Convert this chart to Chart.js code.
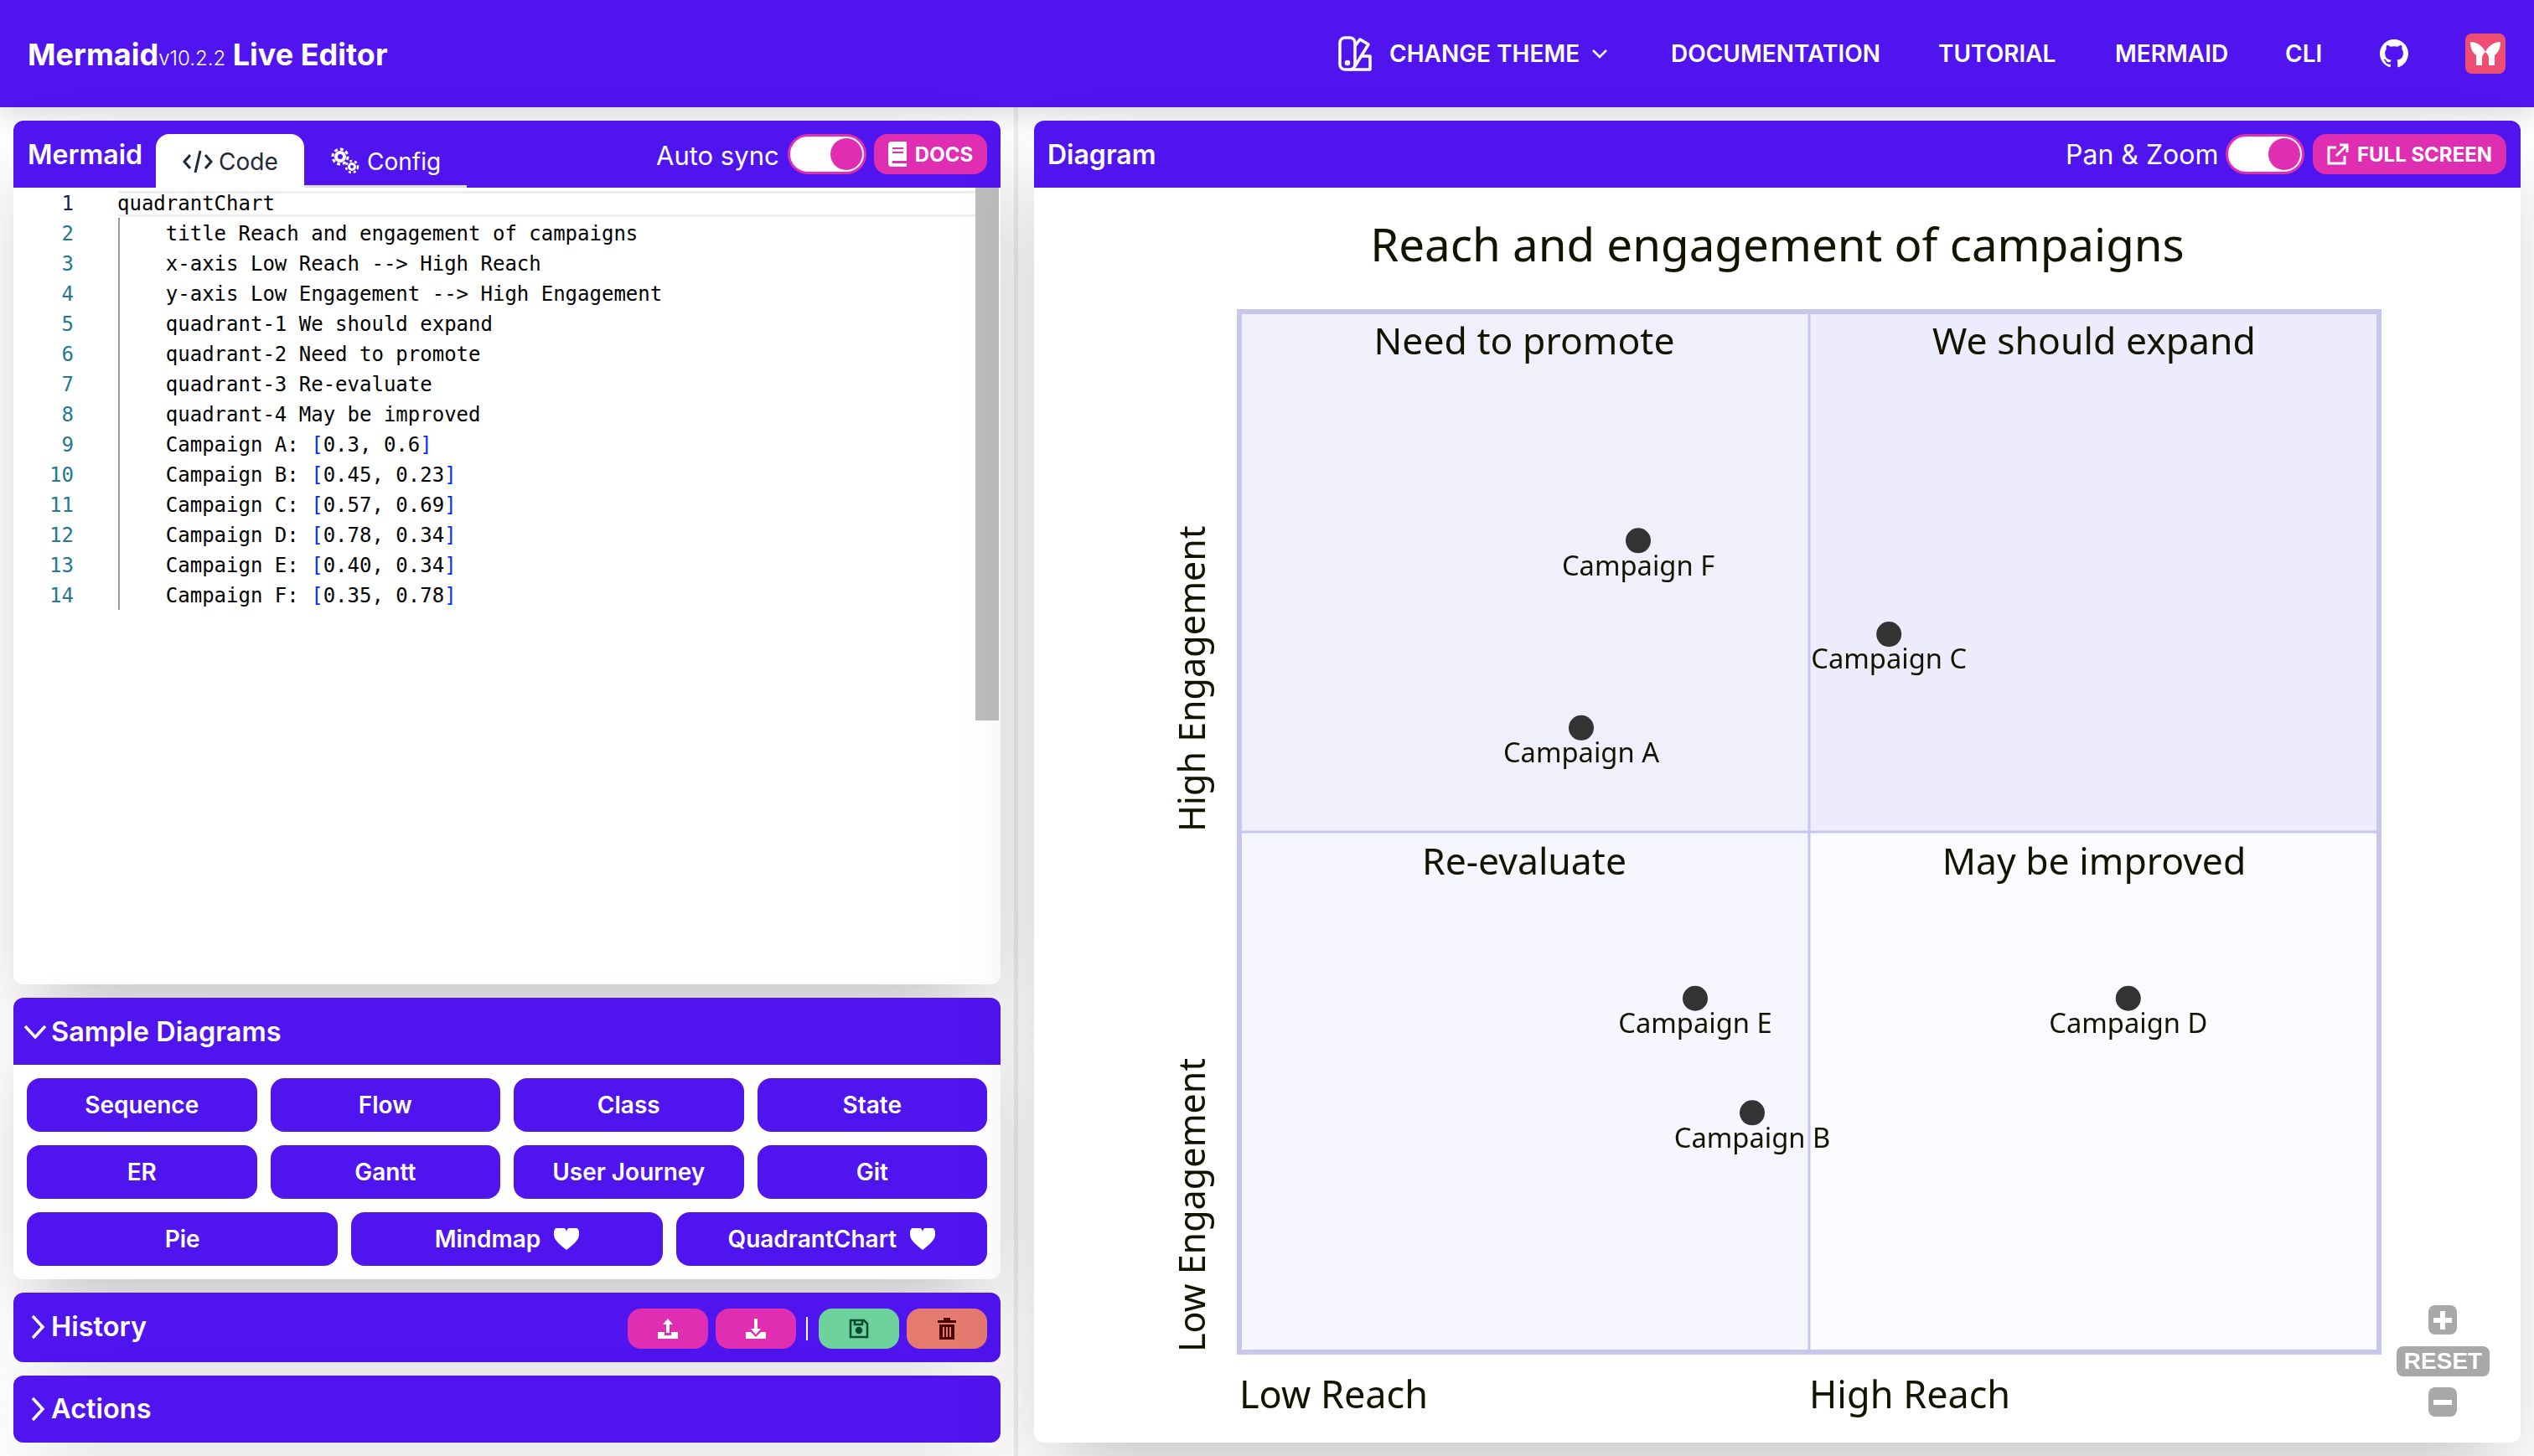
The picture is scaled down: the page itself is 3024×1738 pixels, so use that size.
<!DOCTYPE html>
<html>
<head>
<meta charset="utf-8">
<title>Mermaid Live Editor</title>
<script src="https://cdn.jsdelivr.net/npm/chart.js@4"></script>
<style>
  html, body { margin: 0; width: 3024px; height: 1738px; overflow: hidden; background: #fff; font-family: Inter, sans-serif; color: #fff; }
  .a { position: absolute; box-sizing: border-box; }
  .t { position: absolute; white-space: nowrap; line-height: 1; transform: translateY(-50%); }
  .purple { background: #5014EF; }
  .shadow { box-shadow: 0 50px 100px -24px rgba(0,0,0,.25); }
  .btn { position: absolute; background: #5014EF; border-radius: 16px; display: flex; align-items: center; justify-content: center; font-size: 28px; font-weight: 600; gap: 16px; }
  .pink { position: absolute; background: #DF2EB1; border-radius: 16px; display: flex; align-items: center; justify-content: center; font-size: 24px; font-weight: 700; gap: 10px; }
  .nav { font-size: 28px; font-weight: 600; }
  .head { font-size: 32.5px; font-weight: 600; }
  .toggle { position: absolute; box-sizing: border-box; top: 160px; height: 48px; background: #fff; border: 3px solid #DF2EB1; border-radius: 24px; }
  .toggle i { position: absolute; right: 2px; top: 2px; width: 38px; height: 38px; border-radius: 50%; background: #DF2EB1; }
  .code { position: absolute; font: 24px/36px "DejaVu Sans Mono", monospace; color: #000; white-space: pre; }
  .num { position: absolute; font: 24px/36px "DejaVu Sans Mono", monospace; color: #237893; text-align: right; width: 60px; left: 28px; }
  .zoomBtn { position: absolute; background: #A8A8A8; border-radius: 8px; color: #fff; font: bold 28px "Liberation Sans", sans-serif; display: flex; align-items: center; justify-content: center; }
  svg { display: block; }
</style>
</head>
<body>
<div class="a" style="left:1210px;top:128px;width:5px;height:1610px;background:#eee"></div>

<div class="a purple" style="left:0;top:0;width:3024px;height:128px;box-shadow:0 8px 30px rgba(0,0,0,.15)"></div>
<div class="t" style="left:33px;top:65px;font-size:36px;font-weight:700">Mermaid<span style="font-size:24px;font-weight:300">v10.2.2</span> Live Editor</div>
<svg class="a" style="left:1597px;top:43px" width="42" height="42" viewBox="0 0 42 42" fill="none" stroke="#fff" stroke-width="3.5" stroke-linejoin="round"><path d="M2 8a6 6 0 0 1 6-6h6a6 6 0 0 1 6 6v26a6 6 0 0 1-6 6H8a6 6 0 0 1-6-6z"/><path d="M20 12l6-8 10 6-16 26M14 40h24V24H27"/><circle cx="11" cy="32" r="1.5"/></svg>
<div class="t nav" style="left:1658px;top:64px">CHANGE THEME</div>
<svg class="a" style="left:1899px;top:58px" width="20" height="12" viewBox="0 0 20 12" fill="none" stroke="#fff" stroke-width="2.5"><path d="M2 2l8 8 8-8"/></svg>
<div class="t nav" style="left:1994px;top:64px">DOCUMENTATION</div>
<div class="t nav" style="left:2313px;top:64px">TUTORIAL</div>
<div class="t nav" style="left:2524px;top:64px">MERMAID</div>
<div class="t nav" style="left:2727px;top:64px">CLI</div>
<svg class="a" style="left:2840px;top:47px" width="34" height="34" viewBox="0 0 16 16" fill="#fff"><path d="M8 0C3.58 0 0 3.58 0 8c0 3.54 2.29 6.53 5.47 7.59.4.07.55-.17.55-.38v-1.34c-2.23.48-2.69-1.07-2.69-1.07-.36-.92-.89-1.17-.89-1.17-.73-.5.06-.49.06-.49.8.06 1.23.83 1.23.83.71 1.22 1.87.87 2.33.66.07-.52.28-.87.5-1.07-1.78-.2-3.64-.89-3.64-3.95 0-.87.31-1.59.82-2.15-.08-.2-.36-1.02.08-2.12 0 0 .67-.21 2.2.82a7.6 7.6 0 0 1 4 0c1.53-1.04 2.2-.82 2.2-.82.44 1.1.16 1.92.08 2.12.51.56.82 1.27.82 2.15 0 3.07-1.87 3.75-3.65 3.95.29.25.54.73.54 1.48v2.2c0 .21.15.46.55.38A8.01 8.01 0 0 0 16 8c0-4.42-3.58-8-8-8z"/></svg>
<div class="a" style="left:2942px;top:40px;width:48px;height:48px;border-radius:8px;background:#EE4D74"></div>
<svg class="a" style="left:2948px;top:49px" width="36" height="30" viewBox="0 0 36 30" fill="#fff"><path d="M0 1c8 0 15 5 18 12C21 6 28 1 36 1c0 8-3 13-7 16v12H22V20c0-3-2-5-4-7-2 2-4 4-4 7v9H7V17C3 14 0 9 0 1z"/></svg>

<!-- editor panel -->
<div class="a shadow" style="left:16px;top:144px;width:1178px;height:1031px;background:#fff;border-radius:12px"></div>
<div class="a purple" style="left:16px;top:144px;width:1178px;height:80px;border-radius:12px 12px 0 0"></div>
<div class="t head" style="left:33px;top:185px;font-size:32px">Mermaid</div>
<div class="a" style="left:186px;top:160px;width:177px;height:64px;background:#fff;border-radius:16px 16px 0 0"></div>
<svg class="a" style="left:218px;top:177px" width="36" height="32" viewBox="0 0 36 32" fill="none" stroke="#1f2937" stroke-width="3"><path d="M9 8l-7 8 7 8M27 8l7 8-7 8M21 3l-6 26"/></svg>
<div class="t" style="left:261px;top:193px;font-size:28px;color:#1f2937">Code</div>
<svg class="a" style="left:395px;top:176px" width="34" height="32" viewBox="0 0 34 32" fill="#fff"><circle cx="11" cy="11" r="7"/><circle cx="11" cy="11" r="9" fill="none" stroke="#fff" stroke-width="3" stroke-dasharray="4 3"/><circle cx="11" cy="11" r="3" fill="#5014EF"/><circle cx="25" cy="23" r="5"/><circle cx="25" cy="23" r="7" fill="none" stroke="#fff" stroke-width="2.5" stroke-dasharray="3 3"/><circle cx="25" cy="23" r="2" fill="#5014EF"/></svg>
<div class="t" style="left:438px;top:193px;font-size:28px">Config</div>
<div class="a" style="left:363px;top:221px;width:194px;height:3px;background:#ddd"></div>
<div class="t" style="left:783px;top:185px;font-size:31px">Auto sync</div>
<div class="toggle" style="left:940px;width:94px"><i></i></div>
<div class="pink" style="left:1043px;top:160px;width:135px;height:48px"><svg width="22" height="30" viewBox="0 0 22 30" fill="#fff"><path d="M4 0h18v23H5a2.500 2.500 0 0 0 0 3h17v4H4a4 4 0 0 1-4-4V4a4 4 0 0 1 4-4zM5 7v2h13V7zm0 5v2h13v-2z" fill-rule="evenodd"/></svg>DOCS</div>

<div class="a" style="left:141px;top:228px;width:1051px;height:31px;background:#fff;border:solid #eee;border-width:3px 0"></div>
<div class="a" style="left:141px;top:260px;width:2px;height:468px;background:#999"></div>
<div class="a" style="left:1164px;top:224px;width:28px;height:636px;background:#BDBDBD"></div>
<div id="code"></div>

<!-- sample diagrams -->
<div class="a shadow" style="left:16px;top:1191px;width:1178px;height:336px;background:#fff;border-radius:12px"></div>
<div class="a purple" style="left:16px;top:1191px;width:1178px;height:80px;border-radius:12px 12px 0 0"></div>
<svg class="a" style="left:28px;top:1223px" width="28" height="18" viewBox="0 0 28 18" fill="none" stroke="#fff" stroke-width="3.500"><path d="M2 2l12 13L26 2"/></svg>
<div class="t head" style="left:61px;top:1232px">Sample Diagrams</div>
<div id="samples"></div>

<!-- history and actions -->
<div class="a purple shadow" style="left:16px;top:1543px;width:1178px;height:83px;border-radius:12px"></div>
<svg class="a" style="left:36px;top:1569px" width="18" height="30" viewBox="0 0 18 30" fill="none" stroke="#fff" stroke-width="3.500"><path d="M3 2l12 13L3 28"/></svg>
<div class="t head" style="left:61px;top:1584px">History</div>
<div class="pink" style="left:749px;top:1562px;width:96px;height:48px"><svg width="26" height="26" viewBox="0 0 26 26" fill="#fff"><path d="M13 1l6 7h-4v10h-4V8H7zM1 17h8v4h8v-4h8v8H1z"/></svg></div>
<div class="pink" style="left:854px;top:1562px;width:96px;height:48px"><svg width="26" height="26" viewBox="0 0 26 26" fill="#fff"><path d="M11 1h4v12h4l-6 7-6-7h4zM1 17h6l6 6 6-6h6v8H1z"/></svg></div>
<div class="a" style="left:962px;top:1572px;width:2px;height:28px;background:#fff"></div>
<div class="pink" style="left:977px;top:1562px;width:96px;height:48px;background:#6DD29B"><svg width="24" height="24" viewBox="0 0 24 24" fill="none" stroke="#0d4a33" stroke-width="2.500"><path d="M2 2h16l4 4v16H2z"/><circle cx="12" cy="14" r="3" fill="#0d4a33"/><path d="M7 2v5h9V2"/></svg></div>
<div class="pink" style="left:1082px;top:1562px;width:96px;height:48px;background:#E57A6F"><svg width="22" height="26" viewBox="0 0 22 26" fill="#4a0505"><path d="M0 3h7V0h8v3h7v3H0zM2 8h18v18H2zm4 3v12h2V11zm4 0v12h2V11zm4 0v12h2V11z" fill-rule="evenodd"/></svg></div>

<div class="a purple shadow" style="left:16px;top:1642px;width:1178px;height:80px;border-radius:12px"></div>
<svg class="a" style="left:36px;top:1667px" width="18" height="30" viewBox="0 0 18 30" fill="none" stroke="#fff" stroke-width="3.500"><path d="M3 2l12 13L3 28"/></svg>
<div class="t head" style="left:61px;top:1682px">Actions</div>

<!-- diagram panel -->
<div class="a shadow" style="left:1234px;top:144px;width:1774px;height:1578px;background:#fff;border-radius:12px"></div>
<div class="a purple" style="left:1234px;top:144px;width:1774px;height:80px;border-radius:12px 12px 0 0"></div>
<div class="t head" style="left:1250px;top:185px;font-size:32px">Diagram</div>
<div class="t" style="left:2465px;top:185px;font-size:32px">Pan &amp; Zoom</div>
<div class="toggle" style="left:2656px;width:94px"><i></i></div>
<div class="pink" style="left:2760px;top:160px;width:231px;height:48px"><svg width="26" height="26" viewBox="0 0 26 26" fill="none" stroke="#fff" stroke-width="3"><path d="M11 5H2v19h19v-9M15 2h9v9M24 2L11 15"/></svg>FULL SCREEN</div>

<canvas id="quadrantChart" class="a" style="left:1234px;top:224px" width="1774" height="1498"></canvas>

<div class="zoomBtn" style="left:2898px;top:1558px;width:34px;height:35px"><svg width="22" height="22" viewBox="0 0 22 22" fill="#fff"><path d="M8 0h6v8h8v6h-8v8H8v-8H0V8h8z"/></svg></div>
<div class="zoomBtn" style="left:2860px;top:1607px;width:111px;height:36px">RESET</div>
<div class="zoomBtn" style="left:2898px;top:1656px;width:34px;height:35px"><svg width="22" height="6" viewBox="0 0 22 6" fill="#fff"><path d="M0 0h22v6H0z"/></svg></div>

<script>
var titleText = "Reach and engagement of campaigns";
var xAxisLabels = ["Low Reach", "High Reach"];
var yAxisLabels = ["Low Engagement", "High Engagement"];
var axisTicks = [0, 0.5];
// left x and bottom y of each quadrant, in data units
var quadrantX = [0.5, 0, 0, 0.5];
var quadrantY = [0.5, 0.5, 0, 0];
var quadrantNames = ["We should expand", "Need to promote", "Re-evaluate", "May be improved"];
var quadrantFills = ["#ECECFC", "#F0F0FD", "#F5F6FE", "#FAFAFF"];
var campaignNames = ["Campaign A", "Campaign B", "Campaign C", "Campaign D", "Campaign E", "Campaign F"];
var reachValues = [0.3, 0.45, 0.57, 0.78, 0.40, 0.35];
var engagementValues = [0.6, 0.23, 0.69, 0.34, 0.34, 0.78];

var codeLines = [
  "quadrantChart",
  "    title Reach and engagement of campaigns",
  "    x-axis Low Reach --> High Reach",
  "    y-axis Low Engagement --> High Engagement",
  "    quadrant-1 We should expand",
  "    quadrant-2 Need to promote",
  "    quadrant-3 Re-evaluate",
  "    quadrant-4 May be improved",
  "    Campaign A: [0.3, 0.6]",
  "    Campaign B: [0.45, 0.23]",
  "    Campaign C: [0.57, 0.69]",
  "    Campaign D: [0.78, 0.34]",
  "    Campaign E: [0.40, 0.34]",
  "    Campaign F: [0.35, 0.78]"
];
var sampleRows = [
  ["Sequence", "Flow", "Class", "State"],
  ["ER", "Gantt", "User Journey", "Git"],
  ["Pie", "Mindmap", "QuadrantChart"]
];
var heartIcon = '<svg width="30" height="26" viewBox="0 0 30 26" fill="#fff"><path d="M15 26C6 19 0 14 0 7.500A7.500 7.500 0 0 1 15 4a7.500 7.500 0 0 1 15 3.500C30 14 24 19 15 26z"/></svg>';

var codeHtml = "";
codeLines.forEach((line, i) => {
  var top = 225 + i * 36;
  var text = line.replace(">", "&gt;").replace(/[\[\]]/g, (m) => '<span style="color:#0431FA">' + m + "</span>");
  codeHtml += '<div class="num" style="top:' + top + "px" + (i == 0 ? ";color:#0B216F" : "") + '">' + (i + 1) + "</div>";
  codeHtml += '<div class="code" style="left:140px;top:' + top + 'px">' + text + "</div>";
});
document.getElementById("code").innerHTML = codeHtml;

var sampleHtml = "";
sampleRows.forEach((row, r) => {
  var gap = 16;
  var width = (1146 - gap * (row.length - 1)) / row.length;
  row.forEach((name, c) => {
    var left = 32 + c * (width + gap);
    var icon = (name == "Mindmap" || name == "QuadrantChart") ? heartIcon : "";
    sampleHtml += '<div class="btn" style="left:' + left + "px;top:" + (1287 + r * 80) + "px;width:" + width + 'px;height:64px">' + name + icon + "</div>";
  });
});
document.getElementById("samples").innerHTML = sampleHtml;

var chartFont = '"Noto Sans"';
var textColor = "#131300";
var borderColor = "#C7C7EE";

// quadrant boxes sit under the points, campaign names above them
var quadrantPlugin = {
  id: "quadrants",
  beforeDatasetsDraw: (chart) => {
    var ctx = chart.ctx;
    var sx = chart.scales.x;
    var sy = chart.scales.y;
    ctx.save();
    quadrantNames.forEach((name, i) => {
      var left = sx.getPixelForValue(quadrantX[i]);
      var right = sx.getPixelForValue(quadrantX[i] + 0.5);
      var top = sy.getPixelForValue(quadrantY[i] + 0.5);
      var bottom = sy.getPixelForValue(quadrantY[i]);
      ctx.fillStyle = quadrantFills[i];
      ctx.fillRect(left, top, right - left, bottom - top);
    });
    ctx.strokeStyle = borderColor;
    ctx.lineWidth = 3;
    ctx.beginPath();
    ctx.moveTo(sx.getPixelForValue(0.5), sy.top);
    ctx.lineTo(sx.getPixelForValue(0.5), sy.bottom);
    ctx.moveTo(sx.left, sy.getPixelForValue(0.5));
    ctx.lineTo(sx.right, sy.getPixelForValue(0.5));
    ctx.stroke();
    ctx.lineWidth = 6;
    ctx.strokeRect(sx.left, sy.top, sx.right - sx.left, sy.bottom - sy.top);
    ctx.fillStyle = textColor;
    ctx.font = "44.5px " + chartFont;
    ctx.textAlign = "center";
    ctx.textBaseline = "middle";
    quadrantNames.forEach((name, i) => {
      var mid = sx.getPixelForValue(quadrantX[i] + 0.25);
      var top = sy.getPixelForValue(quadrantY[i] + 0.5);
      ctx.fillText(name, mid, top + 38);
    });
    ctx.restore();
  },
  afterDatasetsDraw: (chart) => {
    var ctx = chart.ctx;
    ctx.save();
    ctx.fillStyle = textColor;
    ctx.font = "32.7px " + chartFont;
    ctx.textAlign = "center";
    ctx.textBaseline = "middle";
    chart.getDatasetMeta(0).data.forEach((point, i) => {
      ctx.fillText(campaignNames[i], point.x, point.y + 32);
    });
    ctx.restore();
  }
};

var fixAxisBox = (size, key) => (scale) => {
  scale[key] = size;
  scale.paddingLeft = 0;
  scale.paddingRight = 0;
  scale.paddingTop = 0;
  scale.paddingBottom = 0;
};

new Chart(document.getElementById("quadrantChart"), {
  type: "scatter",
  plugins: [quadrantPlugin],
  data: {
    datasets: [{
      data: reachValues.map((x, i) => ({ x: x, y: engagementValues[i] })),
      backgroundColor: "#333333",
      borderWidth: 0,
      pointRadius: 15,
      pointHoverRadius: 15
    }]
  },
  options: {
    responsive: false,
    animation: false,
    devicePixelRatio: 1,
    layout: { padding: { left: 169, right: 169, top: 0, bottom: 0 } },
    plugins: {
      legend: { display: false },
      tooltip: { enabled: false },
      title: {
        display: true,
        text: titleText,
        color: textColor,
        font: { family: chartFont, size: 54.7, weight: "normal", lineHeight: 1.2 },
        padding: { top: 40, bottom: 42.4 }
      }
    },
    scales: {
      x: {
        type: "linear",
        min: 0,
        max: 1,
        grid: { display: false },
        border: { display: false },
        afterBuildTicks: (scale) => { scale.ticks = axisTicks.map((v) => ({ value: v })); },
        afterFit: fixAxisBox(108, "height"),
        ticks: {
          align: "start",
          autoSkip: false,
          maxRotation: 0,
          padding: 19,
          color: textColor,
          font: { family: chartFont, size: 45 },
          callback: (value) => xAxisLabels[axisTicks.indexOf(value)]
        }
      },
      y: {
        type: "linear",
        min: 0,
        max: 1,
        grid: { display: false },
        border: { display: false },
        afterBuildTicks: (scale) => { scale.ticks = axisTicks.map((v) => ({ value: v })); },
        afterFit: fixAxisBox(76, "width"),
        ticks: {
          mirror: true,
          padding: -53,
          autoSkip: false,
          minRotation: 90,
          maxRotation: 90,
          color: textColor,
          font: { family: chartFont, size: 43 },
          callback: (value) => yAxisLabels[axisTicks.indexOf(value)]
        }
      }
    }
  }
});
</script>
</body>
</html>
